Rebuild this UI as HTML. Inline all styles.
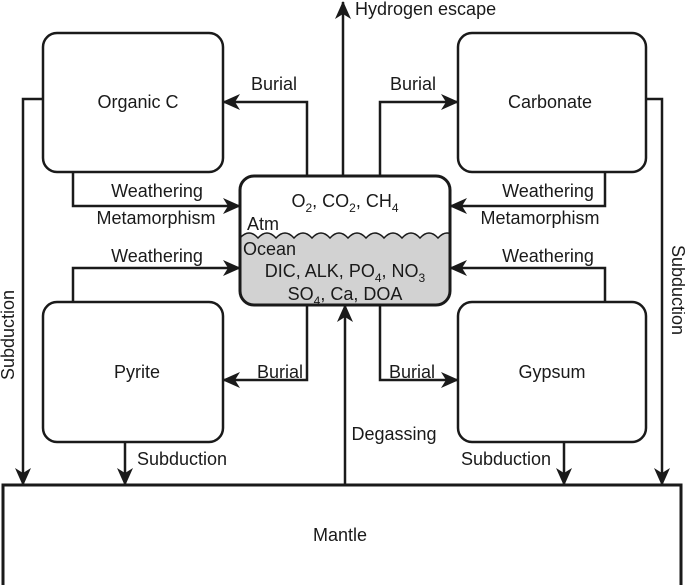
<!DOCTYPE html>
<html><head><style>
body{margin:0;background:#fff;}
svg{display:block;font-family:"Liberation Sans",Arial,sans-serif;}
text{font-size:18px;fill:#1a1a1a;}
</style></head><body>
<svg width="685" height="585" viewBox="0 0 685 585" xmlns="http://www.w3.org/2000/svg">
<defs>
<marker id="b" markerWidth="18" markerHeight="18" refX="17" refY="9" orient="auto" markerUnits="userSpaceOnUse" viewBox="0 0 18 18">
<path d="M0,1 L18,9 L0,17 L5,9 Z" fill="#1a1a1a"/>
</marker>
<clipPath id="cb"><rect x="240" y="176" width="210" height="129" rx="14"/></clipPath>
</defs>
<g fill="none" stroke="#1a1a1a" stroke-width="2.5">
<rect x="43" y="33" width="180" height="139" rx="14"/>
<rect x="458" y="33" width="188" height="139" rx="14"/>
<rect x="43" y="302" width="180" height="140" rx="14"/>
<rect x="458" y="302" width="188" height="140" rx="14"/>
</g>
<g clip-path="url(#cb)">
<path d="M240,238 q9,-10 18,0 q9,-10 18,0 q9,-10 18,0 q9,-10 18,0 q9,-10 18,0 q9,-10 18,0 q9,-10 18,0 q9,-10 18,0 q9,-10 18,0 q9,-10 18,0 q9,-10 18,0 q9,-10 18,0 L456,310 L240,310 Z" fill="#d2d2d2" stroke="#1a1a1a" stroke-width="1.5"/>
</g>
<rect x="240" y="176" width="210" height="129" rx="14" fill="none" stroke="#1a1a1a" stroke-width="3"/>
<rect x="3" y="485" width="678" height="110" fill="none" stroke="#1a1a1a" stroke-width="3"/>
<g fill="none" stroke="#1a1a1a" stroke-width="2.5">
<polyline points="43,99 23,99 23,485" marker-end="url(#b)"/>
<polyline points="646,99 662,99 662,485" marker-end="url(#b)"/>
<polyline points="73,172 73,206 240,206" marker-end="url(#b)"/>
<polyline points="73,302 73,268 240,268" marker-end="url(#b)"/>
<polyline points="605,172 605,206 450,206" marker-end="url(#b)"/>
<polyline points="605,302 605,268 450,268" marker-end="url(#b)"/>
<polyline points="307,176 307,102 223,102" marker-end="url(#b)"/>
<polyline points="380,176 380,102 458,102" marker-end="url(#b)"/>
<line x1="343" y1="176" x2="343" y2="2" marker-end="url(#b)"/>
<polyline points="307,305 307,380 223,380" marker-end="url(#b)"/>
<polyline points="380,305 380,380 458,380" marker-end="url(#b)"/>
<line x1="345" y1="485" x2="345" y2="305" marker-end="url(#b)"/>
<line x1="125" y1="442" x2="125" y2="485" marker-end="url(#b)"/>
<line x1="564" y1="442" x2="564" y2="485" marker-end="url(#b)"/>
</g>
<g text-anchor="middle">
<text x="138" y="108">Organic C</text>
<text x="550" y="108">Carbonate</text>
<text x="137" y="378">Pyrite</text>
<text x="552" y="378">Gypsum</text>
<text x="340" y="541">Mantle</text>
<text x="345" y="207">O<tspan font-size="12" dy="5">2</tspan><tspan dy="-5">, CO</tspan><tspan font-size="12" dy="5">2</tspan><tspan dy="-5">, CH</tspan><tspan font-size="12" dy="5">4</tspan></text>
<text x="345" y="277">DIC, ALK, PO<tspan font-size="12" dy="5">4</tspan><tspan dy="-5">, NO</tspan><tspan font-size="12" dy="5">3</tspan></text>
<text x="345" y="300">SO<tspan font-size="12" dy="5">4</tspan><tspan dy="-5">, Ca, DOA</tspan></text>
<text x="157" y="197">Weathering</text>
<text x="156" y="224">Metamorphism</text>
<text x="157" y="262">Weathering</text>
<text x="548" y="197">Weathering</text>
<text x="540" y="224">Metamorphism</text>
<text x="548" y="262">Weathering</text>
<text x="274" y="90">Burial</text>
<text x="413" y="90">Burial</text>
<text x="280" y="378">Burial</text>
<text x="412" y="378">Burial</text>
<text x="394" y="440">Degassing</text>
<text x="182" y="465">Subduction</text>
<text x="506" y="465">Subduction</text>
</g>
<text x="247" y="230" font-size="16">Atm</text>
<text x="243" y="255" font-size="17">Ocean</text>
<text x="355" y="15">Hydrogen escape</text>
<text transform="translate(14,335) rotate(-90)" text-anchor="middle">Subduction</text>
<text transform="translate(672,290) rotate(90)" text-anchor="middle">Subduction</text>
</svg>
</body></html>
